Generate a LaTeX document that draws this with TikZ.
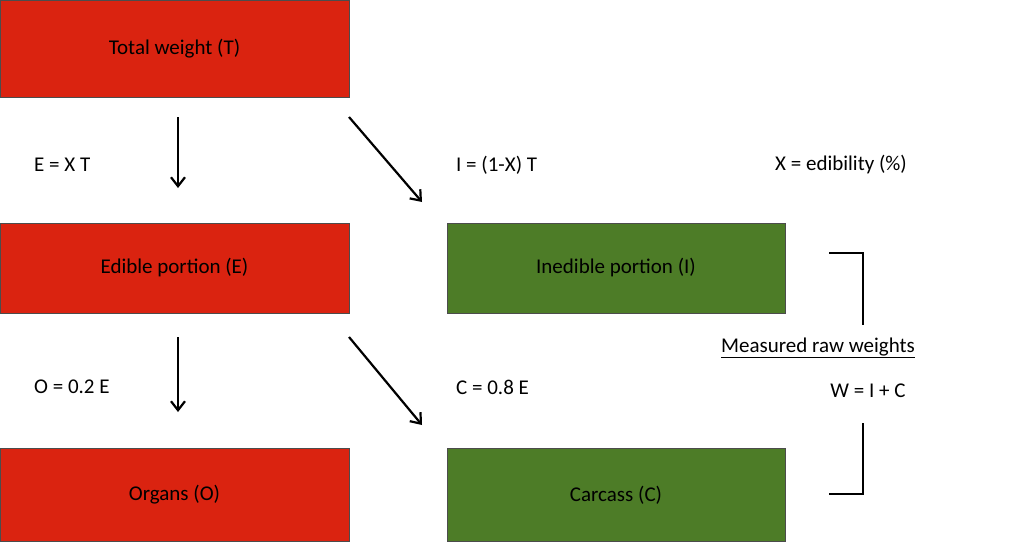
\documentclass[tikz,border=0pt]{standalone}
\usepackage{fontspec}
\setmainfont{Carlito}
\usetikzlibrary{arrows.meta}
\definecolor{boxred}{HTML}{DA2310}
\definecolor{boxgreen}{HTML}{4D7C27}
\begin{document}
\begin{tikzpicture}[x=1pt,y=-1pt,
  box/.style={draw=black!70,line width=0.6pt,minimum height=90pt,inner sep=0pt,font=\fontsize{21}{25}\selectfont},
  redbox/.style={box,fill=boxred,minimum width=349pt},
  greenbox/.style={box,fill=boxgreen,minimum width=338pt},
  lbl/.style={font=\fontsize{21}{25}\selectfont,inner sep=0pt},
  arr/.style={-{Straight Barb[length=9pt,width=14pt]},line width=2.2pt},
  brk/.style={line width=2.2pt}]
\useasboundingbox (0,0) rectangle (1012,541);
\node[redbox,minimum height=97pt] (T) at (174.5,48.5) {Total weight (T)};
\node[redbox] (E) at (174.5,268) {Edible portion (E)};
\node[redbox,minimum height=93pt] (O) at (174.5,495) {Organs (O)};
\node[greenbox] (I) at (616,268) {Inedible portion (I)};
\node[greenbox,minimum height=93pt] (C) at (616,495) {Carcass (C)};
\coordinate (a1s) at (178,117); \coordinate (a1e) at (178,188);
\coordinate (a2s) at (349,117); \coordinate (a2e) at (422,202);
\coordinate (a3s) at (178,337); \coordinate (a3e) at (178,412);
\coordinate (a4s) at (349,337); \coordinate (a4e) at (422,425);
\draw[arr] (a1s) -- (a1e);
\draw[arr] (a2s) -- (a2e);
\draw[arr] (a3s) -- (a3e);
\draw[arr] (a4s) -- (a4e);
\node[lbl,anchor=west] (lE) at (34,165) {E = X T};
\node[lbl,anchor=west] (lI) at (456,165) {I = (1-X) T};
\node[lbl,anchor=west] (lX) at (775,165) {X = edibility (\%)};
\node[lbl,anchor=west] (lO) at (34,387) {O = 0.2 E};
\node[lbl,anchor=west] (lC) at (456,387) {C = 0.8 E};
\node[lbl,anchor=base west] (M) at (721,352) {\underline{Measured raw weights}};
\node[lbl] (W) at (868,391) {W = I + C};
\coordinate (b1) at (829,253); \coordinate (b2) at (863,253); \coordinate (b3) at (863,325);
\coordinate (b4) at (863,423); \coordinate (b5) at (863,494); \coordinate (b6) at (829,494);
\draw[brk] (b1) -- (b2) -- (b3);
\draw[brk] (b4) -- (b5) -- (b6);
\end{tikzpicture}
\end{document}
